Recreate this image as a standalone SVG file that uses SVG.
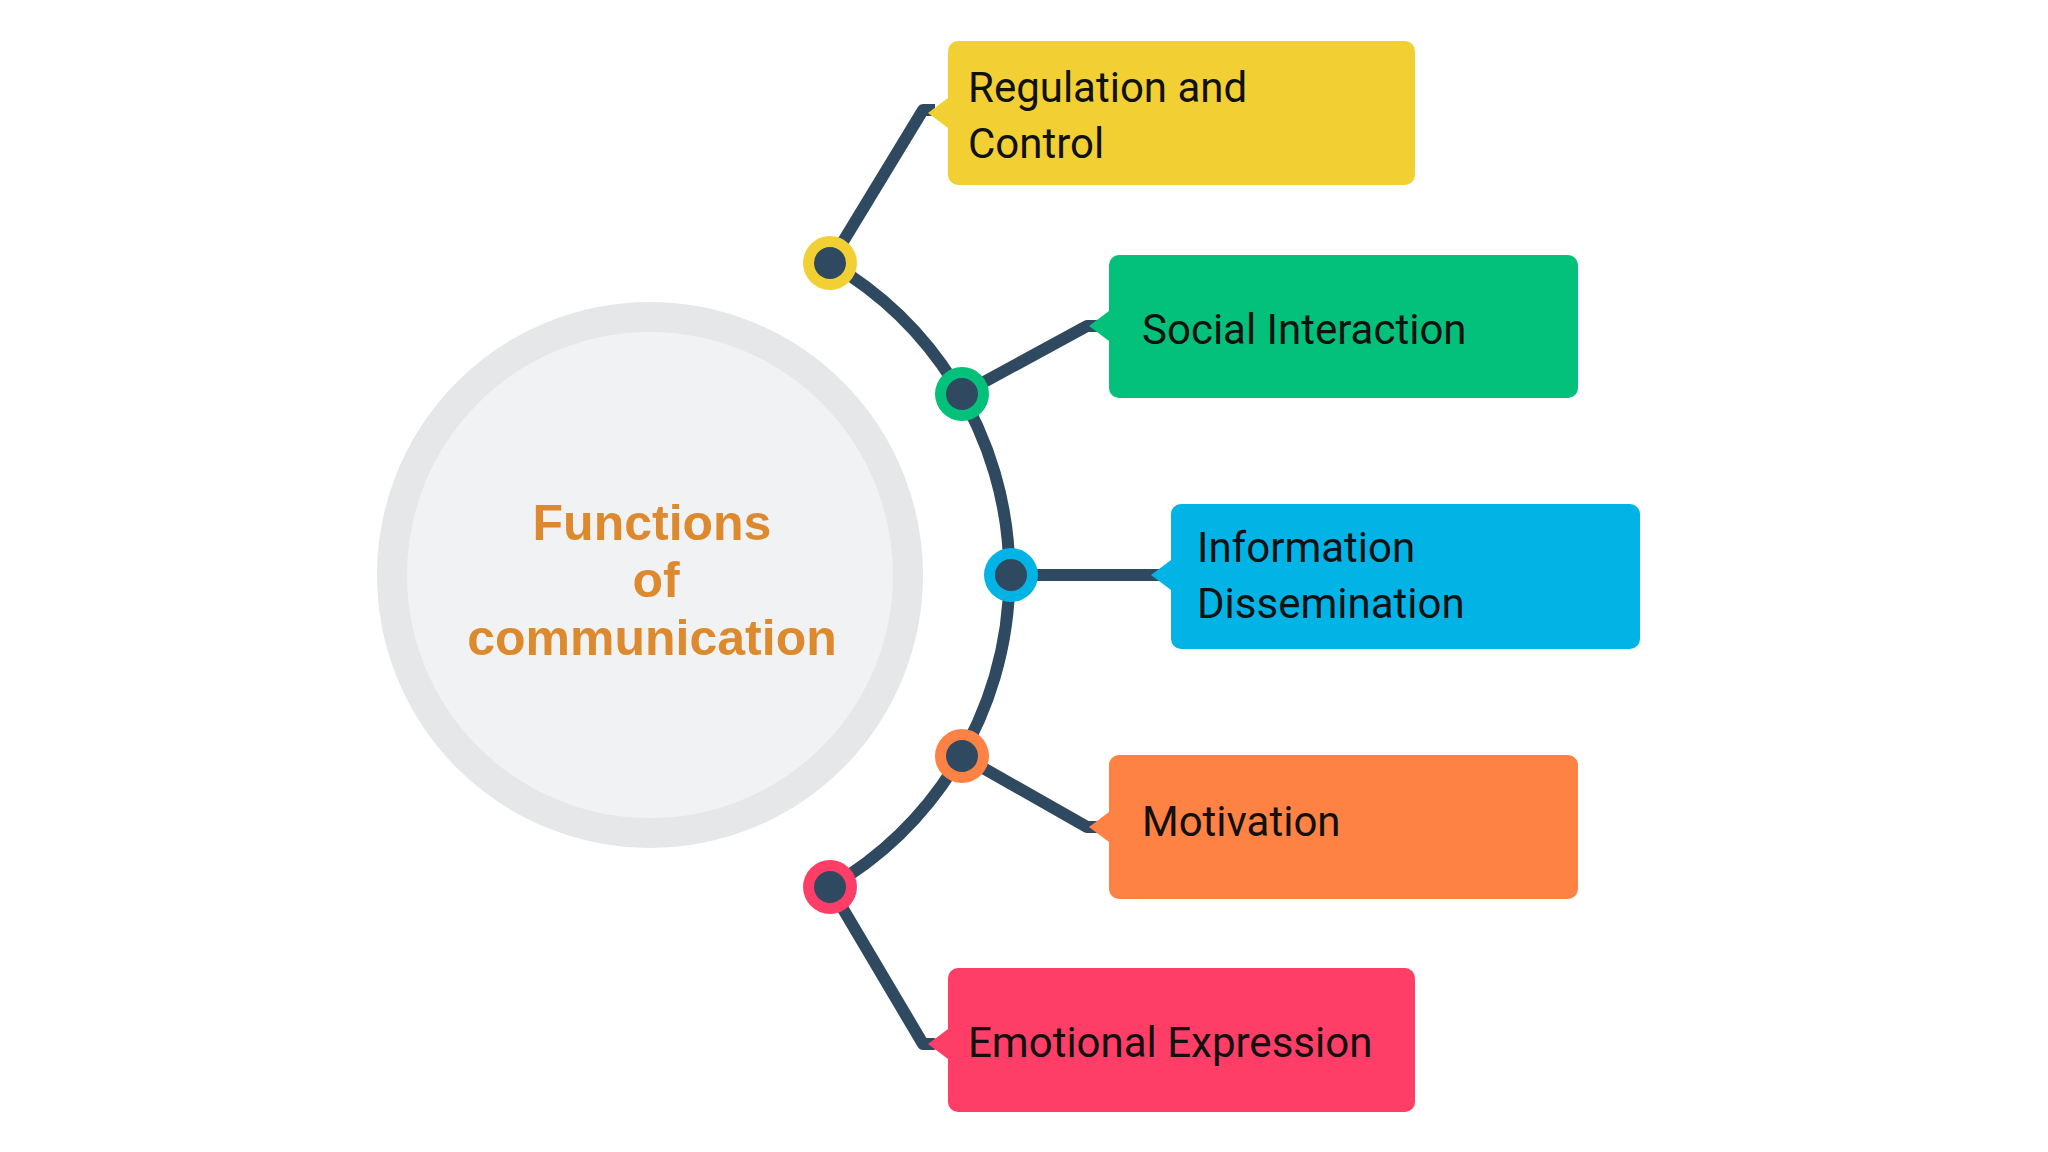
<svg xmlns="http://www.w3.org/2000/svg" width="2048" height="1152" viewBox="0 0 2048 1152">
<style>
.lbl{font-family:Roboto,"Liberation Sans",sans-serif;font-size:42px;fill:#111}
.ttl{font-family:"Liberation Sans",Arial,sans-serif;font-weight:bold;font-size:50px;fill:#DD8A2F;text-anchor:middle}
.ln{stroke:#2F4A60;stroke-width:12;fill:none;stroke-linejoin:round}
.core{fill:#2F4A60}
</style>
<rect width="2048" height="1152" fill="#fff"/>
<g id="center">
<circle cx="650" cy="575" r="258" fill="#F1F2F3" stroke="#E6E7E9" stroke-width="30"/>
<text class="ttl" x="652" y="540">Functions</text>
<text class="ttl" x="656" y="597">of</text>
<text class="ttl" x="652" y="655">communication</text>
</g>
<g id="connectors">
<path class="ln" d="M830 263 A361 361 0 0 1 830 887"/>
<path class="ln" d="M830 263 L923 110 L935 110"/>
<path class="ln" d="M962 394 L1087 326 L1100 326"/>
<path class="ln" d="M1011 575 L1160 575"/>
<path class="ln" d="M962 756 L1087 827 L1100 827"/>
<path class="ln" d="M830 887 L923 1044 L935 1044"/>
</g>
<g id="n1">
<rect x="948" y="41" width="467" height="144" rx="10" fill="#F2CF33"/>
<polygon points="948,98 928,113 948,128" fill="#F2CF33"/>
<text class="lbl" x="968" y="102">Regulation and</text>
<text class="lbl" x="968" y="158">Control</text>
<circle cx="830" cy="263" r="27" fill="#F2CF33"/><circle class="core" cx="830" cy="263" r="16"/>
</g>
<g id="n2">
<rect x="1109" y="255" width="469" height="143" rx="10" fill="#03C07A"/>
<polygon points="1109,311 1089,326 1109,341" fill="#03C07A"/>
<text class="lbl" x="1142" y="344">Social Interaction</text>
<circle cx="962" cy="394" r="27" fill="#03C07A"/><circle class="core" cx="962" cy="394" r="16"/>
</g>
<g id="n3">
<rect x="1171" y="504" width="469" height="145" rx="10" fill="#02B4E6"/>
<polygon points="1171,560 1151,575 1171,590" fill="#02B4E6"/>
<text class="lbl" x="1197" y="562">Information</text>
<text class="lbl" x="1197" y="618">Dissemination</text>
<circle cx="1011" cy="575" r="27" fill="#02B4E6"/><circle class="core" cx="1011" cy="575" r="16"/>
</g>
<g id="n4">
<rect x="1109" y="755" width="469" height="144" rx="10" fill="#FE8244"/>
<polygon points="1109,812 1089,827 1109,842" fill="#FE8244"/>
<text class="lbl" x="1142" y="836">Motivation</text>
<circle cx="962" cy="756" r="27" fill="#FE8244"/><circle class="core" cx="962" cy="756" r="16"/>
</g>
<g id="n5">
<rect x="948" y="968" width="467" height="144" rx="10" fill="#FE3E66"/>
<polygon points="948,1029 928,1044 948,1059" fill="#FE3E66"/>
<text class="lbl" x="968" y="1057">Emotional Expression</text>
<circle cx="830" cy="887" r="27" fill="#FE3E66"/><circle class="core" cx="830" cy="887" r="16"/>
</g>
</svg>
